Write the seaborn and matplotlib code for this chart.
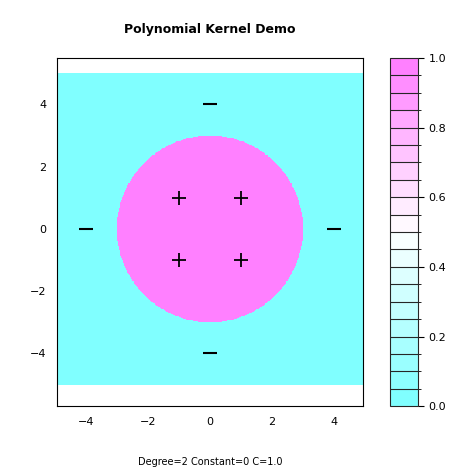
import numpy as np
import pandas as pd
import seaborn as sns
import matplotlib as mpl
from matplotlib import pyplot as plt
from matplotlib.colors import LinearSegmentedColormap, BoundaryNorm

sns.set_style("white")
mpl.rcParams['font.size'] = 8
mpl.rcParams['text.color'] = 'black'
mpl.rcParams['xtick.color'] = 'black'
mpl.rcParams['ytick.color'] = 'black'

# training points
pos_x = [-1, 1, -1, 1]
pos_y = [1, 1, -1, -1]
neg_x = [0, 0, -4, 4]
neg_y = [4, -4, 0, 0]
radius = 3.0  # decision boundary
grid_lim = 5

cmap = LinearSegmentedColormap.from_list('cm', ['#80FFFF', '#FFFFFF', '#FF80FF'])
levels = np.linspace(0, 1, 21)
norm = BoundaryNorm(levels, 256)

g = np.linspace(-grid_lim, grid_lim, 401)
gx, gy = np.meshgrid(g, g)
z = (gx**2 + gy**2 < radius**2).astype(float)

fig = plt.figure(figsize=(4.74, 4.74), dpi=100)
ax = fig.add_axes([0.120, 0.143, 0.646, 0.735])
ax.pcolormesh(g, g, z, cmap=cmap, norm=norm, shading='auto')

pts = pd.DataFrame({'x': pos_x + neg_x, 'y': pos_y + neg_y,
                    'cls': ['+'] * 4 + ['-'] * 4})
sns.scatterplot(data=pts[pts.cls == '+'], x='x', y='y', marker='+', s=90,
                color='black', linewidth=1.3, ax=ax, legend=False)
sns.scatterplot(data=pts[pts.cls == '-'], x='x', y='y', marker='_', s=90,
                color='black', linewidth=1.5, ax=ax, legend=False)
ax.set_xlim(-4.94, 4.94)
ax.set_ylim(-5.7, 5.5)
ax.set_xticks([-4, -2, 0, 2, 4])
ax.set_yticks([-4, -2, 0, 2, 4])
ax.set_xlabel('')
ax.set_ylabel('')
ax.tick_params(direction='out', length=4, width=0.8, colors='black', labelsize=8)
for s in ax.spines.values():
    s.set_color('black')
    s.set_linewidth(0.8)
ax.set_title('Polynomial Kernel Demo', fontweight='bold', fontsize=9, pad=18,
             color='black')

cax = fig.add_axes([0.823, 0.143, 0.059, 0.735])
cb = mpl.colorbar.ColorbarBase(cax, cmap=cmap, norm=norm, boundaries=levels,
                               ticks=[0, 0.2, 0.4, 0.6, 0.8, 1.0], drawedges=True)
cb.dividers.set_linewidth(0.8)
cb.outline.set_linewidth(0.8)
cax.set_yticklabels(['0.0', '0.2', '0.4', '0.6', '0.8', '1.0'])
cax.tick_params(direction='out', length=4, width=0.8, labelsize=8, colors='black')

fig.text(0.443, 0.018, 'Degree=2 Constant=0 C=1.0', ha='center', fontsize=7)
fig.savefig('out.png', dpi=100)
